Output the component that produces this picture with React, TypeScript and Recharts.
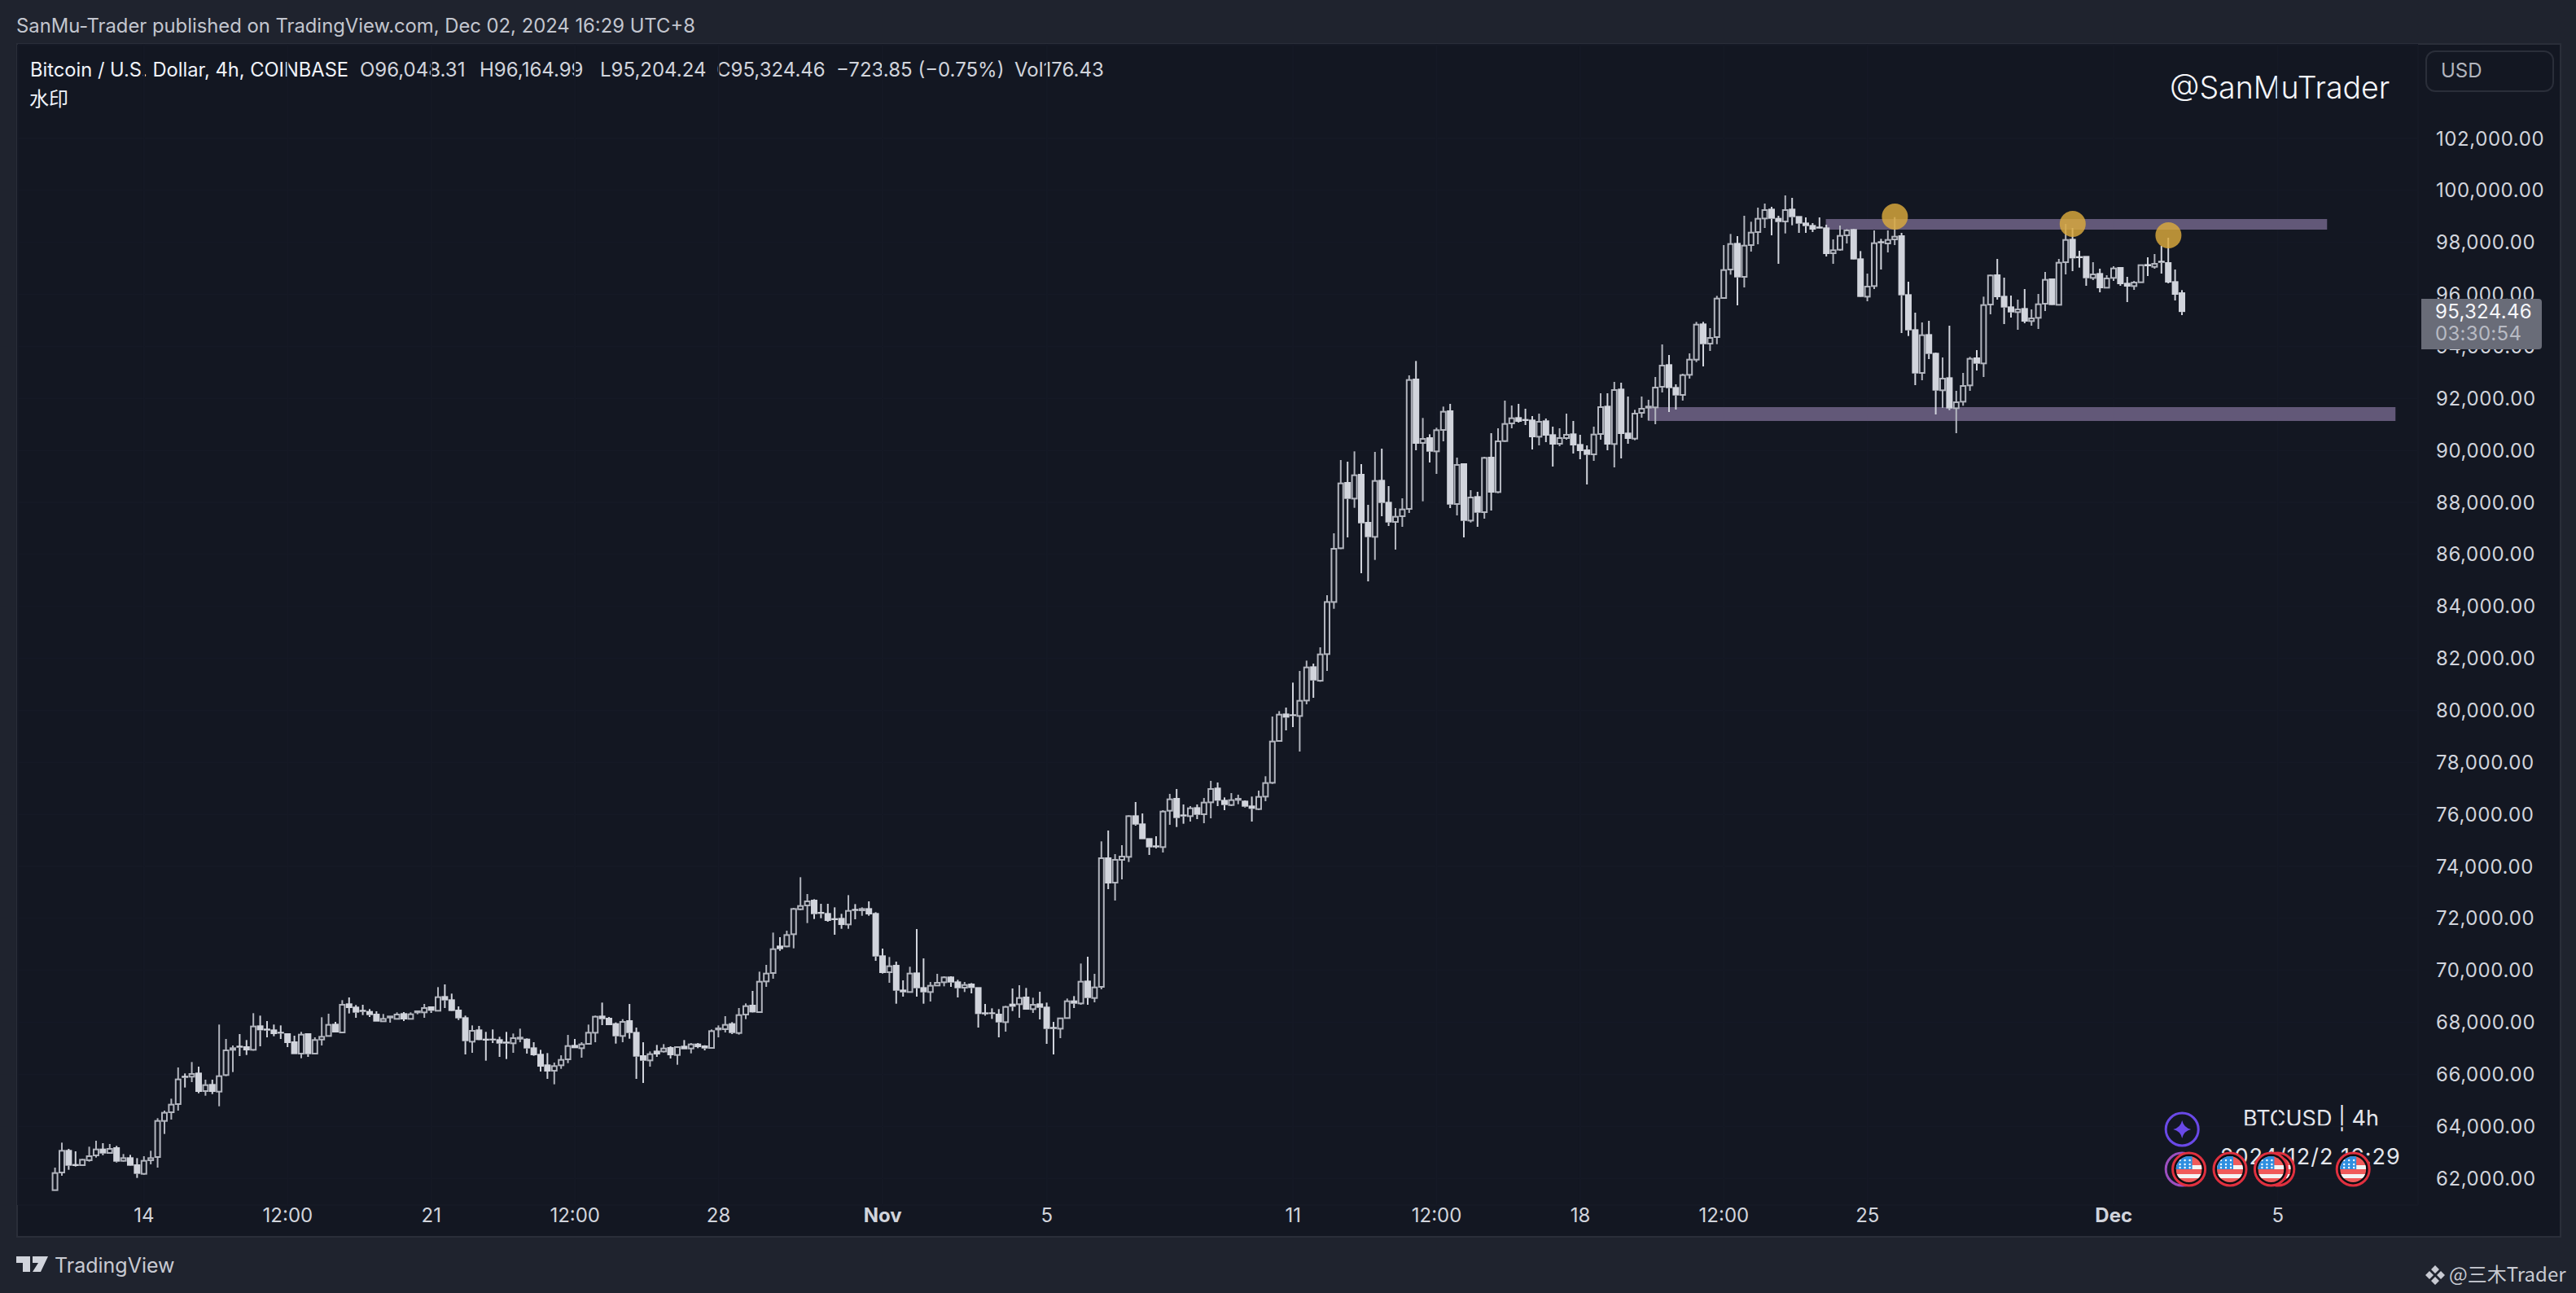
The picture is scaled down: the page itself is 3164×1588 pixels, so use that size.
import React from 'react';
import { ComposedChart, Bar, XAxis, YAxis, CartesianGrid, ReferenceArea, ReferenceDot } from 'recharts';

// BTCUSD 4h candles
const opens = [
  61545,62224,63059,62516,62506,62694,62882,63111,62975,63163,
  62673,62777,62506,62172,62694,62819,64207,64541,64855,65909,
  65909,66034,65356,65596,65335,65972,66943,67068,67047,66943,
  67851,67726,67694,67600,67548,67235,66797,67548,66797,67339,
  67475,67914,67611,68697,68571,68446,68404,68300,68039,68185,
  68133,68321,68133,68383,68383,68582,68446,68978,68853,68456,
  68164,67256,67694,67339,67339,67319,67225,67193,67371,67339,
  67005,66755,66348,66138,66347,66577,67099,67005,67172,67600,
  68226,68143,67934,67475,68049,67600,66702,66535,66879,66879,
  67015,66744,67067,66994,67151,67078,67015,67725,67736,67934,
  67589,68299,68644,68393,69573,69897,70920,70920,71390,72350,
  72496,72684,72214,72173,71974,71985,71765,72329,72308,72360,
  72173,70544,69928,70178,69228,69166,69886,69322,69166,69416,
  69542,69730,69542,69333,69458,69322,68351,68351,68299,68007,
  68686,68696,68957,68508,68696,68571,67788,67756,68164,68811,
  68727,69573,68936,69365,74313,73374,74251,74365,75931,75618,
  75054,74772,74741,76140,76599,75962,75931,76244,76004,76463,
  76996,76526,76359,76557,76495,76307,76202,76683,77215,78823,
  79846,79815,79783,80378,81662,81140,82164,84168,86236,88752,
  88146,89065,87217,86674,88835,87990,87248,87468,87749,92729,
  90286,90474,89963,90787,91508,87937,89472,87300,88209,87624,
  89723,88397,90359,91038,91247,91174,91153,90526,91122,90589,
  90255,90474,90620,90213,90004,89848,90631,91685,90245,92343,
  90652,90453,91445,91644,91654,92447,93283,92406,92134,92907,
  93491,94849,94107,94358,95861,96957,97949,96676,97897,98398,
  98920,99265,98910,98805,99265,98983,98732,98638,98576,98544,
  97584,97720,98273,98482,97354,95913,96321,98012,97960,98116,
  98242,95976,94629,92980,94441,93721,92312,92781,91623,91873,
  92500,93544,93345,95611,96738,95913,95506,95318,95444,94974,
  95099,95642,96582,95600,97239,98106,97438,97448,96634,96790,
  96258,96634,97020,96415,96321,96467,97135,97062,97260,97208,
  96477,96048,
];
const closes = [
  62203,63059,62485,62474,62714,62850,63111,62955,63132,62641,
  62777,62485,62172,62673,62777,64207,64521,64834,65805,65867,
  66014,65324,65585,65324,65930,66922,67005,67026,66922,67841,
  67694,67684,67548,67569,67204,66776,67527,66776,67319,67444,
  67903,67611,68676,68550,68373,68404,68279,68028,68133,68227,
  68300,68112,68310,68425,68550,68446,68968,68843,68436,68154,
  67277,67673,67319,67298,67308,67183,67183,67392,67412,66995,
  66734,66295,66107,66316,66556,67088,67005,67151,67600,68216,
  68122,67892,67464,68017,67589,66681,66524,66775,66765,66994,
  66733,67046,66963,67151,67046,66994,67662,67767,67903,67589,
  68278,68623,68383,69563,69876,70815,70815,71358,72360,72475,
  72653,72162,72173,71901,71932,71744,72287,72287,72360,72152,
  70533,69897,70158,69218,69155,69876,69312,69155,69406,69521,
  69730,69531,69312,69437,69322,68320,68310,68320,67997,68592,
  68600,68936,68487,68675,68560,67746,67746,68153,68811,68717,
  69563,68936,69343,74313,73342,74251,74376,75931,75607,75044,
  74730,74730,76108,76578,75858,75920,76234,75983,76453,76975,
  76526,76359,76547,76599,76296,76213,76672,77205,78802,79835,
  79721,79783,80368,81652,81151,82153,84168,86215,88731,88136,
  89044,87196,86664,88825,87979,87227,87447,87729,92708,90255,
  90443,89952,90777,91487,87916,89441,87290,88188,87603,89712,
  88376,90349,91017,91236,91101,91132,90506,91101,90568,90224,
  90474,90600,90192,89973,89827,90610,91664,90224,92322,90631,
  90443,91414,91602,91685,92416,93262,92395,92113,92896,93491,
  94838,94086,94327,95840,96937,97939,96655,97876,98377,98910,
  99244,98910,98784,99244,98972,98722,98628,98492,98534,97553,
  97699,98252,98461,97344,95903,96300,97970,97970,98095,98221,
  95966,94619,92959,94431,93711,92301,92761,91612,91852,92479,
  93523,93335,95590,96728,95893,95496,95308,95423,94953,95078,
  95621,96561,95590,97218,98095,97386,97396,96623,96770,96237,
  96613,96999,96394,96300,96456,97125,97083,97177,97218,96456,
  95987,95324,
];
const highs = [
  62412,63372,63132,63038,62746,63216,63445,63351,63320,63247,
  62934,62902,62777,62850,63059,64312,64604,65063,66264,66034,
  66473,66295,65794,65794,67914,67360,67110,67548,67319,68352,
  68258,68049,67914,67882,67548,67486,67632,67548,67423,68195,
  68331,68018,68853,68958,68665,68676,68509,68425,68321,68227,
  68383,68394,68383,68456,68707,68613,69354,69459,69104,68613,
  68258,67882,67861,67632,67726,67444,67632,67569,67757,67381,
  67235,66943,66817,66451,66733,67516,67360,67234,67913,68258,
  68759,68205,67997,68122,68706,67798,67234,66879,67130,67161,
  67078,67078,67318,67203,67203,67120,67725,67882,68237,68007,
  68550,68727,69208,69949,70210,71452,71275,71525,72402,73582,
  72935,72736,72559,72559,72423,72173,72893,72548,72423,72653,
  72235,70836,70513,70335,69615,70137,71588,70460,69552,69865,
  69771,69771,69636,69552,69510,69322,68706,68539,68508,68633,
  69302,69427,69322,68947,69176,68759,68017,68174,68915,69009,
  70262,70523,69865,74961,75378,74470,74814,75962,76474,76035,
  75054,75158,76161,76787,76975,76380,76317,76380,76630,77288,
  77225,76651,76818,76756,76536,76683,76912,77466,79762,79971,
  80107,81067,81516,81913,81798,82425,84429,86810,89629,89566,
  89963,89472,87906,89942,90067,88626,87781,88157,92886,93439,
  91247,90620,90871,91685,91790,89723,89472,88470,88407,89754,
  90662,90850,91915,91727,91790,91602,91320,91414,91226,90913,
  90850,91414,91132,90600,90192,90913,92197,92197,92635,92604,
  92072,91560,92072,91946,92823,94076,93669,92541,92949,93732,
  94943,94943,94702,95945,97897,98325,98242,99025,98795,99338,
  99494,99369,99025,99808,99714,98983,98962,98743,98962,98680,
  98116,98649,98513,98513,97667,96801,98461,98137,98461,98972,
  98367,96488,95298,94922,94984,93763,93575,94796,92291,92980,
  93596,93857,95913,96759,97365,96644,95955,95799,96206,95423,
  96018,96864,96613,97365,98711,98555,97678,97448,97239,96989,
  96738,97083,97051,96676,96519,97145,97427,97553,97866,98179,
  96957,96165,
];
const lows = [
  61545,62099,62328,62453,62485,62641,62798,62892,62955,62610,
  62641,62474,62015,62140,62537,62412,63706,64260,64604,65492,
  65700,65272,65178,65241,64771,65930,66087,66703,66744,66911,
  67078,67423,67465,67360,67047,66776,66619,66671,66776,67110,
  67465,67611,67580,68342,68175,68279,68206,68028,68028,67987,
  68133,68049,68133,68310,68175,68363,68436,68550,68425,68091,
  66765,66828,67308,66525,67204,66671,66588,66828,67235,66797,
  66713,66107,65826,65616,66211,66431,67005,66639,67151,67234,
  67892,67892,67182,67234,67370,65825,65668,66295,66671,66838,
  66608,66368,66963,66806,67005,66921,67015,67422,67610,67548,
  67527,68122,68372,68372,69364,69677,70753,70888,70847,72308,
  71818,71974,72005,71870,71369,71598,71598,71964,72099,72099,
  70366,69876,69521,68717,68988,69155,68988,68717,68800,69406,
  69385,69364,68957,69166,69114,67798,68258,68132,67422,67642,
  68435,68174,68487,68362,68111,67172,66765,67391,68143,68550,
  68675,68675,68769,69271,73123,72685,73499,74167,75566,75044,
  74438,74689,74532,75597,75513,75639,75722,75816,75659,75847,
  76317,76161,76317,76390,76265,75722,76161,76505,77173,78802,
  79230,79355,78416,80232,80483,81099,81517,83907,86204,86653,
  87791,85275,84962,85787,87468,87092,86183,87060,87593,90004,
  88042,89535,89096,90349,87781,87499,86653,87227,87060,87374,
  87687,88355,90328,90850,91069,90975,90036,90192,90318,89378,
  90161,90412,89879,89660,88689,89597,90412,90004,89347,89691,
  90255,90391,91257,91153,91007,92228,91476,91570,91915,92761,
  93397,93230,93825,94086,95840,96759,95579,96268,97647,97928,
  98555,98273,97177,98346,98659,98367,98367,98398,98523,97459,
  97177,97678,97960,97333,95893,95736,96206,96957,97615,97897,
  94515,94400,92510,92698,93512,91383,91633,91550,90662,91717,
  92291,93074,92823,95235,95799,94859,95110,94640,94890,94796,
  94671,95360,95579,95579,96770,96895,97031,96331,96550,96081,
  96237,96519,96331,95705,96174,96456,96707,96989,96801,96425,
  95767,95204,
];

const xTicks = [13, 34, 55, 76, 97, 121, 145, 181, 202, 223, 244, 265, 301, 325];
const xLabels = ['14', '12:00', '21', '12:00', '28', 'Nov', '5', '11', '12:00', '18', '12:00', '25', 'Dec', '5'];
const priceTicks = [
  62000, 64000, 66000, 68000, 70000, 72000, 74000, 76000, 78000, 80000, 82000,
  84000, 86000, 88000, 90000, 92000, 94000, 96000, 98000, 100000, 102000,
];

// drawn zones and markers
const topZone = { from: 258.9, to: 332.2, low: 98492, high: 98899 };
const bottomZone = { from: 232.9, to: 342.2, low: 91132, high: 91664 };
const goldDots = [
  { idx: 269, price: 98993 },
  { idx: 295, price: 98711 },
  { idx: 309, price: 98273 },
];
const flagIdx = [325, 312, 318, 324, 336];
const flagPrice = 62349;

const data = opens.map((o, i) => ({ idx: i, range: [lows[i], highs[i]], open: o, close: closes[i] }));

const FONT = 'Inter, "Noto Sans", sans-serif';
const BG = '#131722';
const OUTER = '#1f232e';
const UP = '#b2b5be';
const DOWN = '#d1d4dc';

const Candle = (props: any) => {
  const { x, y, width, height, payload } = props;
  const [low, high] = payload.range;
  const perPrice = height / Math.max(high - low, 1);
  const py = (v: number) => y + (high - v) * perPrice;
  const up = payload.close >= payload.open;
  const top = py(Math.max(payload.open, payload.close));
  const bot = py(Math.min(payload.open, payload.close));
  const cx = x + width / 2;
  const color = up ? UP : DOWN;
  return (
    <g>
      <line x1={cx} x2={cx} y1={y} y2={top} stroke={color} strokeWidth={2} />
      <line x1={cx} x2={cx} y1={bot} y2={y + height} stroke={color} strokeWidth={2} />
      {up ? (
        <rect x={x + 1} y={top} width={width - 2} height={Math.max(bot - top, 1)} fill={BG} stroke={UP} strokeWidth={2} />
      ) : (
        <rect x={x} y={top - 1} width={width} height={Math.max(bot - top, 1) + 1} fill={DOWN} />
      )}
    </g>
  );
};

const XTick = ({ x, payload }: any) => {
  const label = xLabels[xTicks.indexOf(payload.value)];
  const bold = label === 'Nov' || label === 'Dec';
  return (
    <text x={x} y={1492} textAnchor="middle" dominantBaseline="central" fill="#d1d4dc" fontSize={24} fontWeight={bold ? 700 : 400} fontFamily={FONT}>
      {label}
    </text>
  );
};

const YTick = ({ y, payload }: any) => (
  <text x={2992} y={y} dominantBaseline="central" fill="#d1d4dc" fontSize={24} letterSpacing={0.6} fontFamily={FONT}>
    {payload.value.toLocaleString('en-US', { minimumFractionDigits: 2 })}
  </text>
);

const Flag = (props: any) => {
  const { cx, cy } = props;
  const id = `flag-${Math.round(cx)}`;
  return (
    <g>
      <circle cx={cx} cy={cy} r={20} fill="#0c0d12" stroke="#e0303f" strokeWidth={3} />
      <clipPath id={id}>
        <circle cx={cx} cy={cy} r={16} />
      </clipPath>
      <g clipPath={`url(#${id})`}>
        <rect x={cx - 16} y={cy - 16} width={32} height={32} fill="#f05a5a" />
        <rect x={cx - 16} y={cy - 5} width={32} height={5} fill="#f4f4f4" />
        <rect x={cx - 16} y={cy + 6} width={32} height={5} fill="#f4f4f4" />
        <rect x={cx - 16} y={cy - 16} width={20} height={16} fill="#2f8fe0" />
        {[-11, -5, 1].map((dx) =>
          [-11, -6, -2].map((dy) => <circle key={`${dx}${dy}`} cx={cx + dx} cy={cy + dy} r={1.2} fill="#fff" />),
        )}
      </g>
    </g>
  );
};

const Spark = (props: any) => {
  const { cx, cy } = props;
  return (
    <g>
      <circle cx={cx} cy={cy} r={20} fill="none" stroke="#6a49e8" strokeWidth={3} />
      <path
        d={`M${cx} ${cy - 11}Q${cx + 2} ${cy - 2} ${cx + 11} ${cy}Q${cx + 2} ${cy + 2} ${cx} ${cy + 11}Q${cx - 2} ${cy + 2} ${cx - 11} ${cy}Q${cx - 2} ${cy - 2} ${cx} ${cy - 11}Z`}
        fill="#6a49e8"
      />
    </g>
  );
};

const Ring = (props: any) => <circle cx={props.cx} cy={props.cy} r={20} fill="none" stroke="#9c4fc0" strokeWidth={3} />;

const Txt = ({ x, y, size = 24, color = '#d1d4dc', weight = 400, font = FONT, spacing = 0, children }: any) => (
  <div
    style={{
      position: 'absolute',
      left: x,
      top: y,
      transform: 'translateY(-50%)',
      fontSize: size,
      color,
      fontWeight: weight,
      fontFamily: font,
      letterSpacing: spacing,
      whiteSpace: 'nowrap',
      lineHeight: 1,
    }}
  >
    {children}
  </div>
);

export default function App() {
  return (
    <div style={{ position: 'fixed', left: 0, top: 0, width: 3164, height: 1588, background: OUTER, overflow: 'hidden' }}>
      <div
        style={{
          position: 'absolute',
          left: 20,
          top: 53,
          width: 3122,
          height: 1463,
          background: BG,
          border: '2px solid #2a2e39',
          boxSizing: 'content-box',
        }}
      />
      <Txt x={20} y={32} size={23.8} color="#c3c6cf">SanMu-Trader published on TradingView.com, Dec 02, 2024 16:29 UTC+8</Txt>
      <Txt x={37} y={86} size={23.7} color="#f0f3fa">Bitcoin / U.S. Dollar, 4h, COINBASE</Txt>
      <Txt x={442} y={86}>O96,048.31</Txt>
      <Txt x={589} y={86}>H96,164.99</Txt>
      <Txt x={737} y={86}>L95,204.24</Txt>
      <Txt x={880} y={86}>C95,324.46</Txt>
      <Txt x={1027} y={86}>−723.85 (−0.75%)</Txt>
      <Txt x={1246} y={86}>Vol176.43</Txt>
      <Txt x={36} y={120} color="#f0f3fa" font='"Noto Sans CJK SC", sans-serif'>水印</Txt>
      <Txt x={2665} y={108} size={37.5} weight={300} color="#f5f6fa">@SanMuTrader</Txt>
      <Txt x={2755} y={1373} size={27} color="#e4e6ec">BTCUSD | 4h</Txt>
      <Txt x={2727} y={1420} size={27} spacing={1} color="#e4e6ec">2024/12/2 16:29</Txt>

      <div style={{ position: 'absolute', left: 0, top: 0 }}>
        <ComposedChart
          width={3164}
          height={1588}
          data={data}
          margin={{ top: 55, right: 21, bottom: 71, left: 22 }}
        >
          <CartesianGrid stroke="#151925" strokeWidth={2} />
          <XAxis
            dataKey="idx"
            type="number"
            domain={[-5.45, 345.5]}
            ticks={xTicks}
            interval={0}
            height={37}
            axisLine={false}
            tickLine={false}
            tick={<XTick />}
            allowDataOverflow
          />
          <YAxis
            orientation="right"
            type="number"
            domain={[60971, 105602]}
            ticks={priceTicks}
            interval={0}
            width={173}
            axisLine={false}
            tickLine={false}
            tick={<YTick />}
            allowDataOverflow
          />
          <ReferenceArea x1={topZone.from} x2={topZone.to} y1={topZone.low} y2={topZone.high} fill="#625878" fillOpacity={1} stroke="none" />
          <ReferenceArea x1={bottomZone.from} x2={bottomZone.to} y1={bottomZone.low} y2={bottomZone.high} fill="#625878" fillOpacity={1} stroke="none" />
          <Bar dataKey="range" barSize={8} shape={<Candle />} isAnimationActive={false} />
          {goldDots.map((d) => (
            <ReferenceDot key={d.idx} x={d.idx} y={d.price} r={16} fill="#dca93c" fillOpacity={0.82} stroke="none" />
          ))}
          <ReferenceDot x={311} y={63884} shape={<Spark />} />
          <ReferenceDot x={311} y={flagPrice} shape={<Ring />} />
          {flagIdx.map((i) => (
            <ReferenceDot key={i} x={i} y={flagPrice} shape={<Flag />} />
          ))}
        </ComposedChart>
      </div>

      <div
        style={{
          position: 'absolute',
          left: 2979,
          top: 62,
          width: 158,
          height: 51,
          boxSizing: 'border-box',
          border: '2px solid #2a2e39',
          borderRadius: 12,
        }}
      />
      <Txt x={2998} y={87} color="#b2b5be">USD</Txt>
      <div style={{ position: 'absolute', left: 2974, top: 367, width: 148, height: 62, background: '#696c78', borderRadius: '0 4px 4px 0' }} />
      <Txt x={2991} y={383} spacing={0.3} color="#f5f6fa">95,324.46</Txt>
      <Txt x={2991} y={410} spacing={0.3} color="#b8bbc4">03:30:54</Txt>

      <svg style={{ position: 'absolute', left: 20, top: 1543 }} width={40} height={20} viewBox="0 0 40 20">
        <path d="M0 0H17V19H8V8H0ZM20 0H39L30 19H20L27 8H20Z" fill="#d1d4dc" />
      </svg>
      <Txt x={67} y={1554} size={25} color="#c8cad2">TradingView</Txt>
      <svg style={{ position: 'absolute', left: 2977, top: 1552 }} width={28} height={28} viewBox="0 0 28 28">
        <path d="M14 2L19 7L14 12L9 7ZM7 9L12 14L7 19L2 14ZM21 9L26 14L21 19L16 14ZM14 16L19 21L14 26L9 21Z" fill="#c8cad2" />
      </svg>
      <Txt x={3008} y={1564} size={24} color="#c8cad2" font='"Noto Sans CJK SC", sans-serif'>@三木Trader</Txt>
    </div>
  );
}
